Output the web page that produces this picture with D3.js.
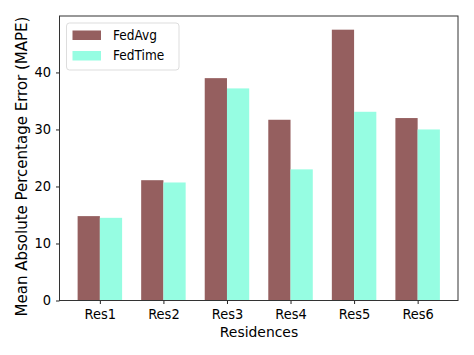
<!DOCTYPE html>
<html><head><meta charset="utf-8">
<script src="https://cdn.jsdelivr.net/npm/d3@7"></script>
<style>body{margin:0;background:#fff}svg{display:block;font-family:"DejaVu Sans",sans-serif}</style>
</head><body><svg id="c" width="474" height="355"></svg>
<script>
const categories = ["Res1","Res2","Res3","Res4","Res5","Res6"];
const fedAvg = [14.8, 21.1, 39.0, 31.7, 47.5, 32.0];
const fedTime = [14.5, 20.7, 37.2, 23.0, 33.1, 30.0];
const seriesNames = ["FedAvg","FedTime"];
const yTicks = [0,10,20,30,40];
const colors = ["#955f5f","#96fde2"];

const svg = d3.select("#c");
const L=59.5, R=458, T=16, B=300.5;
const bw = 0.35;
const x = d3.scaleLinear().domain([-0.635, 5.635]).range([L,R]);
const y = d3.scaleLinear().domain([0, 49.9]).range([B,T]);

const series = [fedAvg, fedTime];
series.forEach((vals, s) => {
  svg.append("g").selectAll("rect").data(vals).join("rect")
    .attr("x", (d,i) => x(i + (s===0 ? -bw : 0)))
    .attr("width", x(bw) - x(0))
    .attr("y", d => y(d))
    .attr("height", d => y(0) - y(d))
    .attr("fill", colors[s]);
});

const fs = 14;
const xAxis = svg.append("g").attr("transform",`translate(0,${B})`)
  .call(d3.axisBottom(x).tickValues(d3.range(categories.length)).tickFormat(i=>categories[i]).tickSize(3.5).tickPadding(5));
const yAxis = svg.append("g").attr("transform",`translate(${L},0)`)
  .call(d3.axisLeft(y).tickValues(yTicks).tickSize(3.5).tickPadding(5.5));
[xAxis,yAxis].forEach(a=>{
  a.select(".domain").remove();
  a.selectAll("text").attr("font-size",fs).attr("fill","#000").attr("font-family","DejaVu Sans")
    .attr("transform","scale(0.93,1)");
  a.selectAll("line").attr("stroke","#222");
});
svg.append("rect").attr("x",L).attr("y",T).attr("width",R-L).attr("height",B-T)
  .attr("fill","none").attr("stroke","#333").attr("stroke-width",1);

svg.append("text").attr("transform","translate(259,337) scale(0.96,1)").attr("text-anchor","middle")
  .attr("font-size",14.5).text("Residences");
svg.append("text").attr("transform",`translate(27,166.5) rotate(-90)`).attr("text-anchor","middle")
  .attr("font-size",15).text("Mean Absolute Percentage Error (MAPE)");

const lg = svg.append("g");
lg.append("rect").attr("x",66.5).attr("y",23).attr("width",112.5).attr("height",47).attr("rx",3)
  .attr("fill","#fff").attr("fill-opacity",0.8).attr("stroke","#ddd");
seriesNames.forEach((n,i)=>{
  lg.append("rect").attr("x",72.5).attr("y",30.5+i*20.5).attr("width",28.5).attr("height",9.5).attr("fill",colors[i]);
  lg.append("text").attr("transform",`translate(113,${39.5+i*20.5}) scale(0.9,1)`).attr("font-size",13.5).text(n);
});
</script></body></html>
